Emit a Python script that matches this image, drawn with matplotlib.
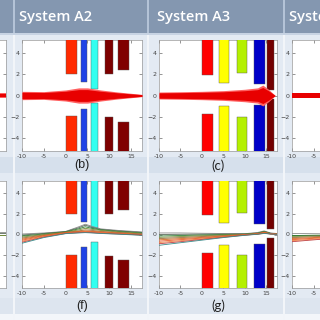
import matplotlib
matplotlib.use('Agg')
import matplotlib.pyplot as plt
from matplotlib.patches import Rectangle

# header titles (left column is cut off)
titles = ['System A2', 'System A3', 'System A4']
panel_labels_top = ['(b)', '(c)']
panel_labels_bot = ['(f)', '(g)']

# slit bars: left edge, width, gap above / below the axis
a2_bar_x = [0.0, 3.5, 5.9, 9.0, 12.1]
a2_bar_w = [2.7, 1.5, 1.6, 1.9, 2.4]
a2_gap_top = [2.0, 1.25, 0.6, 2.0, 2.4]
a2_gap_bot = [1.95, 1.25, 0.7, 2.05, 2.45]
a2_colors = ['#ff2a00', '#1f43e6', '#33fff0', '#7d0000', '#800000']

a3_bar_x = [0.0, 4.0, 8.1, 12.2, 15.2]
a3_bar_w = [2.5, 2.2, 2.5, 2.5, 1.6]
a3_gap_top = [1.9, 1.15, 2.1, 1.05, 0.5]
a3_gap_bot = [1.75, 1.0, 2.0, 0.9, 0.35]
a3_colors = ['#ff0000', '#ffff00', '#b4f000', '#0000c8', '#730000']

# red beam half widths (top row)
a1_beam_x = [5, 17.5]
a1_beam_hw = [0.15, 0.15]
a2_beam_x = [-10, -5, 0, 3, 5, 8, 12, 17.5]
a2_beam_hw = [0.3, 0.28, 0.4, 0.55, 0.55, 0.4, 0.25, 0.08]
a3_beam_x = [-10, -5, 0, 5, 10, 13, 14.2, 15.5, 17]
a3_beam_hw = [0.25, 0.27, 0.3, 0.35, 0.45, 0.55, 0.75, 0.45, 0.03]
a4_beam_x = [-10, -5, 0]
a4_beam_hw = [0.2, 0.2, 0.2]

# trajectories (bottom row)
line_colors = ['#8c8c8c', '#5a6b5a', '#2e7d32', '#7a8c3a', '#9c6b3c',
               '#d2691e', '#e8562a', '#f08040', '#c04040', '#3c8c8c']

a2_path_x = [-10, -5, 0, 3, 4.5, 6, 8, 12, 17.5]
a2_paths = [
    [0.05, 0.15, 0.3, 0.75, 1.0, 0.8, 0.55, 0.4, 0.25],
    [-0.05, 0.1, 0.28, 0.65, 0.9, 0.7, 0.5, 0.35, 0.2],
    [-0.15, 0.05, 0.25, 0.55, 0.75, 0.6, 0.45, 0.3, 0.15],
    [-0.25, 0.0, 0.22, 0.45, 0.6, 0.5, 0.4, 0.25, 0.1],
    [-0.35, -0.05, 0.2, 0.35, 0.45, 0.4, 0.3, 0.2, 0.05],
    [-0.45, -0.1, 0.18, 0.3, 0.35, 0.3, 0.25, 0.15, 0.0],
    [-0.55, -0.15, 0.15, 0.25, 0.3, 0.25, 0.2, 0.1, -0.02],
    [-0.65, -0.2, 0.12, 0.2, 0.25, 0.2, 0.15, 0.08, -0.05],
    [-0.75, -0.25, 0.1, 0.18, 0.2, 0.18, 0.12, 0.05, -0.05],
    [-0.85, -0.3, 0.08, 0.15, 0.18, 0.15, 0.1, 0.03, -0.08],
]

a3_path_x = [-10, -5, 0, 5, 10, 13, 14.5, 16, 17.5]
a3_paths = [
    [0.15, 0.15, 0.12, 0.1, 0.08, 0.2, 0.35, 0.15, 0.1],
    [0.0, 0.02, 0.03, 0.05, 0.06, 0.15, 0.3, 0.12, 0.08],
    [-0.15, -0.1, -0.05, 0.0, 0.03, 0.12, 0.28, 0.1, 0.06],
    [-0.28, -0.2, -0.12, -0.05, 0.02, 0.1, 0.25, 0.1, 0.05],
    [-0.4, -0.3, -0.2, -0.1, 0.0, 0.08, 0.22, 0.08, 0.04],
    [-0.52, -0.4, -0.28, -0.15, -0.02, 0.06, 0.2, 0.07, 0.03],
    [-0.65, -0.5, -0.35, -0.2, -0.04, 0.05, 0.18, 0.06, 0.03],
    [-0.78, -0.6, -0.42, -0.24, -0.05, 0.04, 0.15, 0.05, 0.02],
    [-0.9, -0.7, -0.48, -0.27, -0.06, 0.03, 0.12, 0.05, 0.02],
    [-1.05, -0.8, -0.55, -0.3, -0.08, 0.02, 0.1, 0.05, 0.02],
]

a4_path_x = [-10, -5, 0]
a4_paths = [
    [0.1, 0.08, 0.06],
    [0.0, 0.0, 0.0],
    [-0.1, -0.07, -0.05],
    [-0.2, -0.15, -0.1],
    [-0.3, -0.22, -0.15],
    [-0.4, -0.3, -0.2],
    [-0.5, -0.37, -0.25],
    [-0.6, -0.45, -0.3],
    [-0.7, -0.52, -0.35],
]

a1_path_x = [10, 17.5]
a1_paths = [
    [0.1, 0.2],
    [0.05, 0.1],
    [0.0, 0.0],
    [-0.05, -0.05],
]

xticks = [-10, -5, 0, 5, 10, 15]
yticks = [-4, -2, 0, 2, 4]

W = 320.0


def box(x0, y0, x1, y1, color):
    # rectangle in pixel units, y measured from the top
    fig.patches.append(Rectangle((x0 / W, 1 - y1 / W), (x1 - x0) / W, (y1 - y0) / W,
                                 transform=fig.transFigure, color=color, zorder=-10, lw=0))


def new_ax(x0, x1, y0, y1, xlabels=True, ylabels=True, max_xlabel=20):
    ax = fig.add_axes([x0 / W, 1 - y1 / W, (x1 - x0) / W, (y1 - y0) / W])
    ax.set_zorder(5)
    ax.set_xlim(-10, 17.5)
    ax.set_ylim(-5.2, 5.2)
    ax.set_xticks(xticks)
    ax.set_yticks(yticks)
    ax.set_xticklabels([str(t) if t <= max_xlabel else '' for t in xticks])
    ax.tick_params(labelsize=4.5, colors='#444444', length=2, width=0.4,
                   direction='in', top=True, right=True, pad=2,
                   labelbottom=xlabels, labelleft=ylabels)
    for s in ax.spines.values():
        s.set_color('#999999')
        s.set_linewidth(0.5)
    return ax


def bars(ax, bx, bw, gt, gb, cols):
    for x, w, t, b, c in zip(bx, bw, gt, gb, cols):
        ax.bar(x, 6 - t, w, bottom=t, align='edge', color=c, edgecolor='#555555', lw=0.3, zorder=3)
        ax.bar(x, 6 - b, w, bottom=-6, align='edge', color=c, edgecolor='#555555', lw=0.3, zorder=3)


def beam(ax, bx, hw):
    lo = [-h for h in hw]
    ax.fill_between(bx, [h * 1.3 for h in hw], [l * 1.3 for l in lo], color='#ff6060', lw=0, zorder=4)
    ax.fill_between(bx, hw, lo, color='#e80000', lw=0, zorder=4)


def paths(ax, px, ys):
    for i, y in enumerate(ys):
        ax.plot(px, y, color=line_colors[i % len(line_colors)], lw=0.6, zorder=4)


fig = plt.figure(figsize=(3.2, 3.2), dpi=100)
fig.patch.set_facecolor('#f3f6fa')

# backgrounds
box(0, 0, 320, 33, '#8497b0')
box(0, 33, 320, 35, '#c7d3e3')
box(0, 35, 320, 314, '#e3eaf3')
box(0, 157, 320, 173, '#d6e0ec')
box(0, 298, 320, 314, '#dde5ef')
for sx in [13, 147, 283]:
    box(sx, 0, sx + 2, 33, '#b4c3d7')
    box(sx, 35, sx + 2, 320, '#f2f5f9')

for tx, t in zip([19, 157, 289], titles):
    fig.text(tx / W, 1 - 17 / W, t, color='white', fontsize=10.5, fontfamily='Open Sans',
             fontweight='semibold', va='center', ha='left')

fig.text(82 / W, 1 - 165 / W, panel_labels_top[0], fontsize=9, fontfamily='Liberation Sans',
         ha='center', va='center', color='#222222')
fig.text(218 / W, 1 - 166 / W, panel_labels_top[1], fontsize=9.5, fontfamily='Lato',
         ha='center', va='center', color='#222222')
fig.text(82 / W, 1 - 306 / W, panel_labels_bot[0], fontsize=9, fontfamily='Liberation Sans',
         ha='center', va='center', color='#222222')
fig.text(218 / W, 1 - 306 / W, panel_labels_bot[1], fontsize=9.5, fontfamily='Lato',
         ha='center', va='center', color='#222222')

# column A1 (cut off)
ax = new_ax(-114, 6, 40, 151, xlabels=False, ylabels=False)
beam(ax, a1_beam_x, a1_beam_hw)
ax = new_ax(-114, 6, 181, 288, xlabels=False, ylabels=False)
paths(ax, a1_path_x, a1_paths)

# column A2
ax = new_ax(22, 142, 40, 151)
bars(ax, a2_bar_x, a2_bar_w, a2_gap_top, a2_gap_bot, a2_colors)
beam(ax, a2_beam_x, a2_beam_hw)
ax = new_ax(22, 142, 181, 288)
bars(ax, a2_bar_x, a2_bar_w, a2_gap_top, a2_gap_bot, a2_colors)
paths(ax, a2_path_x, a2_paths)

# column A3
ax = new_ax(159, 277, 40, 151)
bars(ax, a3_bar_x, a3_bar_w, a3_gap_top, a3_gap_bot, a3_colors)
beam(ax, a3_beam_x, a3_beam_hw)
ax = new_ax(159, 277, 181, 288)
bars(ax, a3_bar_x, a3_bar_w, a3_gap_top, a3_gap_bot, a3_colors)
paths(ax, a3_path_x, a3_paths)

# column A4 (cut off)
ax = new_ax(292, 412, 40, 151, max_xlabel=-5)
beam(ax, a4_beam_x, a4_beam_hw)
ax = new_ax(292, 412, 181, 288, max_xlabel=-5)
paths(ax, a4_path_x, a4_paths)

fig.savefig('out.png', dpi=100, facecolor=fig.get_facecolor())
